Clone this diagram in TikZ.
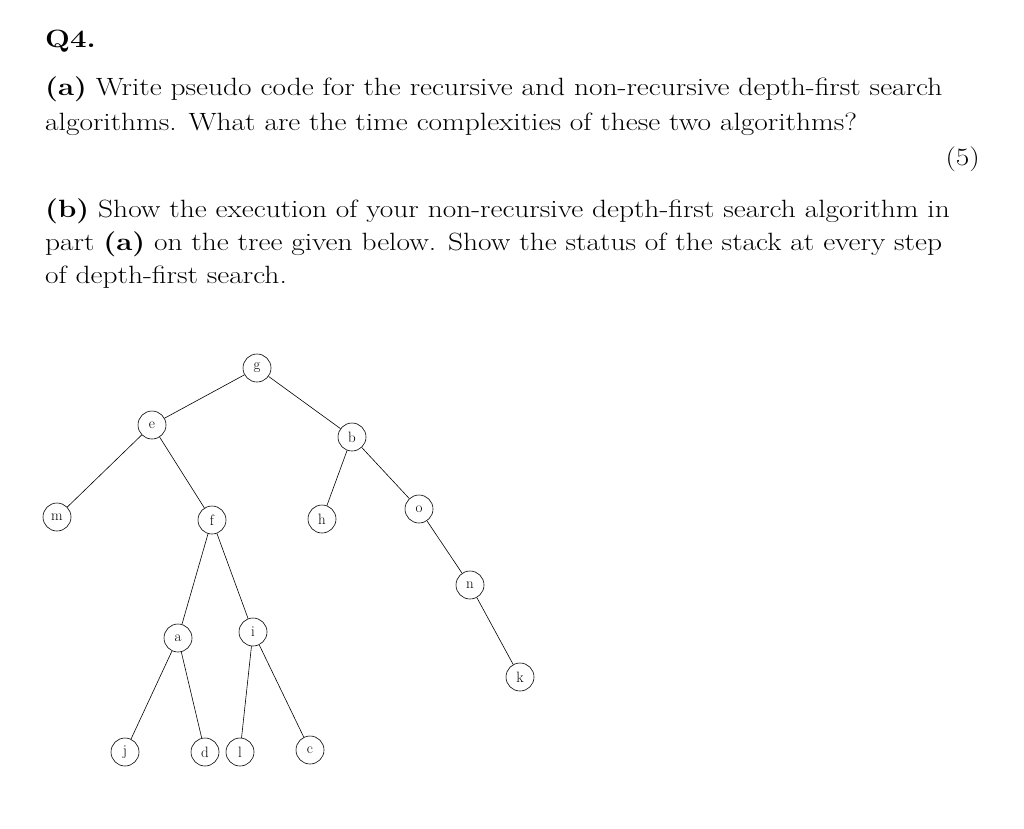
\documentclass[tikz,border=0pt]{standalone}
\usepackage{graphicx}
\begin{document}
\begin{tikzpicture}[x=1pt,y=-1pt,
  nd/.style={circle,draw,semithick,minimum size=28pt,inner sep=0pt,font=\fontsize{15}{15}\selectfont},
  ln/.style={anchor=base west,inner sep=0pt,font=\fontsize{25}{30}\selectfont}]
\useasboundingbox (0,0) rectangle (1024,828);
\newcommand\wid[1]{\scalebox{1.176}[1]{#1}}
\node[ln] (q) at (45,47) {\wid{\textbf{Q4.}}};
\node[ln] (a1) at (45,95) {\wid{\textbf{(a)} Write pseudo code for the recursive and non-recursive depth-first search}};
\node[ln] (a2) at (45,130) {\wid{algorithms. What are the time complexities of these two algorithms?}};
\node[ln,anchor=base east] (five) at (980,165) {\wid{(5)}};
\node[ln] (b1) at (45,217) {\wid{\textbf{(b)} Show the execution of your non-recursive depth-first search algorithm in}};
\node[ln] (b2) at (45,250) {\wid{part \textbf{(a)} on the tree given below. Show the status of the stack at every step}};
\node[ln] (b3) at (45,283) {\wid{of depth-first search.}};
\node[nd] (g) at (257,368) {g};
\node[nd] (e) at (152,425) {e};
\node[nd] (b) at (352,437) {b};
\node[nd] (m) at (57,517) {m};
\node[nd] (f) at (212,520) {f};
\node[nd] (h) at (322,519) {h};
\node[nd] (o) at (419,509) {o};
\node[nd] (n) at (470,585) {n};
\node[nd] (a) at (178,638) {a};
\node[nd] (i) at (253,632) {i};
\node[nd] (k) at (520,677) {k};
\node[nd] (j) at (125,752) {j};
\node[nd] (d) at (205,752) {d};
\node[nd] (l) at (240,752) {l};
\node[nd] (c) at (310,750) {c};
\draw[semithick] (g)--(e) (g)--(b) (e)--(m) (e)--(f) (b)--(h) (b)--(o) (o)--(n) (n)--(k)
  (f)--(a) (f)--(i) (a)--(j) (a)--(d) (i)--(l) (i)--(c);
\end{tikzpicture}
\end{document}
